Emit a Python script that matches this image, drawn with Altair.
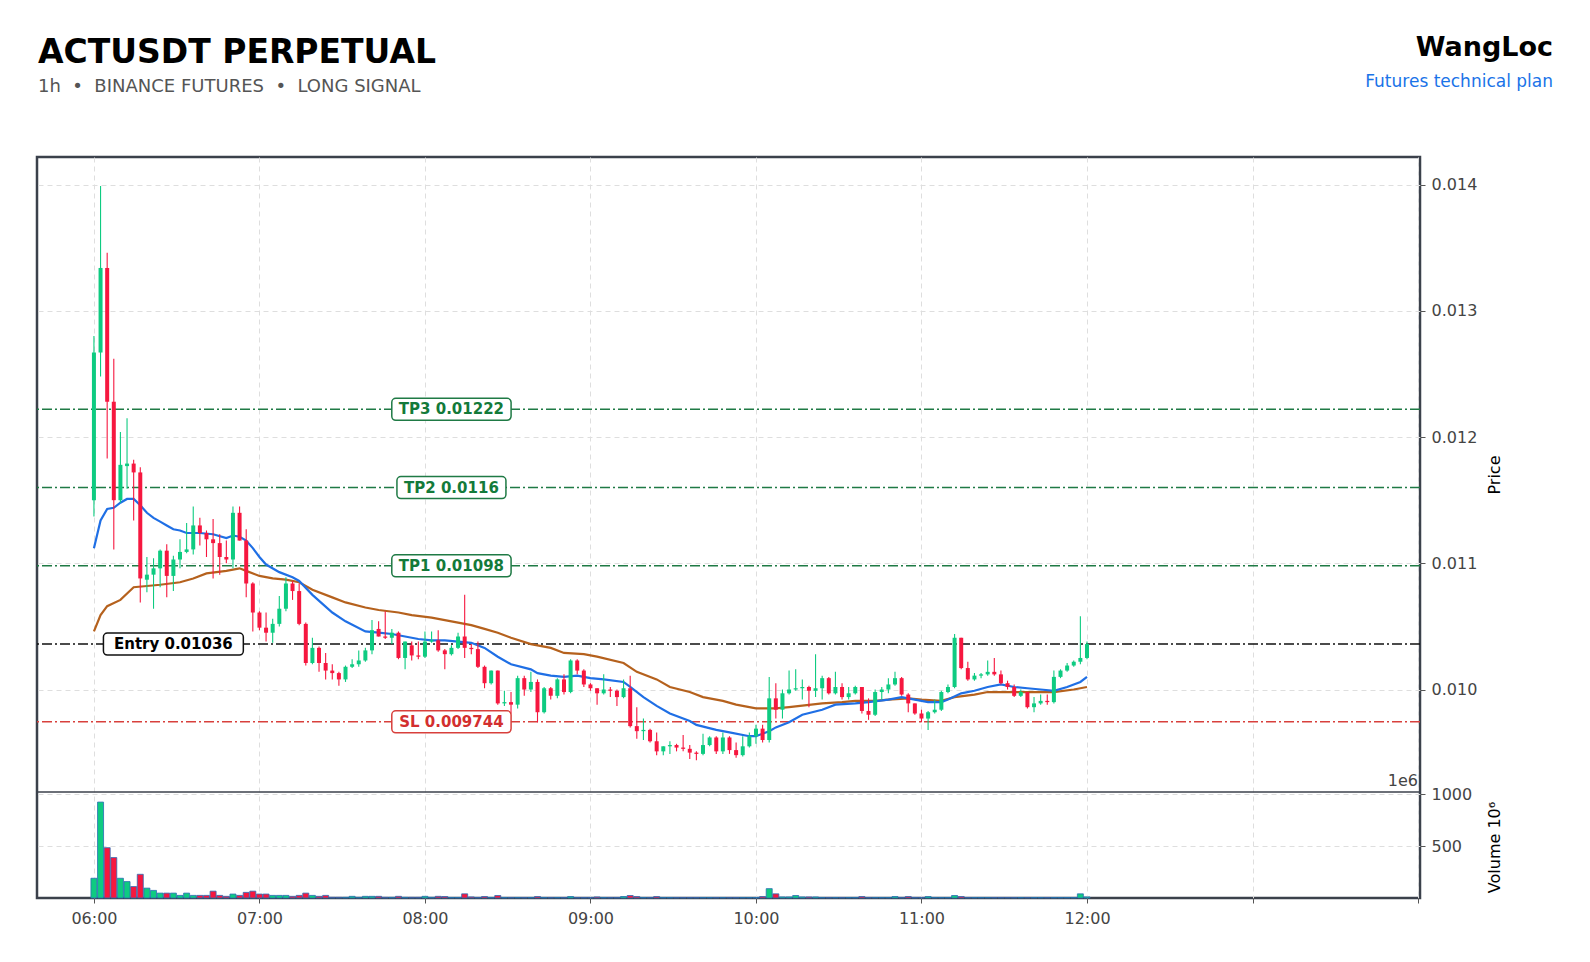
import altair as alt
import pandas as pd

# ---------------- data ----------------
HOUR_LABELS = ["06:00", "07:00", "08:00", "09:00", "10:00", "11:00", "12:00"]
CANDLES_PER_HOUR = 25

OPEN = [
    0.01150, 0.01267, 0.01334, 0.01228, 0.01150, 0.01177, 0.01179, 0.01172, 0.01087, 0.01091,
    0.01096, 0.01110, 0.01090, 0.01103, 0.01109, 0.01111, 0.01130, 0.01124, 0.01119, 0.01116,
    0.01105, 0.01103, 0.01140, 0.01118, 0.01084, 0.01061, 0.01049, 0.01045, 0.01052, 0.01064,
    0.01084, 0.01078, 0.01052, 0.01021, 0.01033, 0.01021, 0.01015, 0.01013, 0.01008, 0.01018,
    0.01020, 0.01023, 0.01031, 0.01048, 0.01042, 0.01041, 0.01045, 0.01025, 0.01035, 0.01027,
    0.01026, 0.01038, 0.01039, 0.01031, 0.01028, 0.01033, 0.01042, 0.01033, 0.01032, 0.01018,
    0.01005, 0.01015, 0.00989, 0.00990, 0.00988, 0.01009, 0.01000, 0.01006, 0.00982, 0.01001,
    0.00995, 0.01008, 0.00998, 0.01023, 0.01015, 0.01004, 0.01001, 0.00997, 0.01000, 0.00999,
    0.00994, 0.01001, 0.00971, 0.00967, 0.00968, 0.00959, 0.00951, 0.00955, 0.00956, 0.00954,
    0.00953, 0.00950, 0.00949, 0.00956, 0.00962, 0.00951, 0.00962, 0.00952, 0.00948, 0.00955,
    0.00963, 0.00969, 0.00960, 0.00993, 0.00984, 0.00997, 0.01000, 0.01001, 0.01002, 0.00999,
    0.01001, 0.01009, 0.00997, 0.01002, 0.00994, 0.00997, 0.01002, 0.00983, 0.00980, 0.00998,
    0.01000, 0.01004, 0.01009, 0.00996, 0.00989, 0.00981, 0.00977, 0.00982, 0.00984, 0.00998,
    0.01002, 0.01041, 0.01017, 0.01008, 0.01011, 0.01012, 0.01014, 0.01012, 0.01005, 0.01002,
    0.00995, 0.00998, 0.00986, 0.00989, 0.00991, 0.00990, 0.01010, 0.01015, 0.01019, 0.01022,
    0.01025,
]
HIGH = [
    0.01280, 0.01399, 0.01346, 0.01262, 0.01204, 0.01215, 0.01182, 0.01176, 0.01105, 0.01104,
    0.01111, 0.01115, 0.01106, 0.01119, 0.01132, 0.01145, 0.01136, 0.01126, 0.01135, 0.01123,
    0.01118, 0.01145, 0.01145, 0.01127, 0.01085, 0.01062, 0.01061, 0.01056, 0.01074, 0.01089,
    0.01086, 0.01084, 0.01053, 0.01041, 0.01034, 0.01029, 0.01020, 0.01014, 0.01019, 0.01024,
    0.01031, 0.01033, 0.01055, 0.01054, 0.01062, 0.01048, 0.01046, 0.01038, 0.01038, 0.01038,
    0.01046, 0.01046, 0.01047, 0.01032, 0.01035, 0.01045, 0.01075, 0.01036, 0.01038, 0.01019,
    0.01015, 0.01015, 0.00999, 0.00998, 0.01011, 0.01011, 0.01014, 0.01008, 0.01002, 0.01002,
    0.01009, 0.01012, 0.01024, 0.01024, 0.01016, 0.01005, 0.01001, 0.01012, 0.01002, 0.01000,
    0.01008, 0.01011, 0.00986, 0.00977, 0.00969, 0.00966, 0.00955, 0.00959, 0.00957, 0.00964,
    0.00956, 0.00951, 0.00965, 0.00963, 0.00963, 0.00966, 0.00963, 0.00958, 0.00963, 0.00966,
    0.00972, 0.00972, 0.01010, 0.01005, 0.01000, 0.01015, 0.01016, 0.01008, 0.01003, 0.01028,
    0.01011, 0.01010, 0.01014, 0.01005, 0.01002, 0.01003, 0.01002, 0.00993, 0.01000, 0.01002,
    0.01009, 0.01014, 0.01010, 0.00997, 0.00989, 0.00984, 0.00983, 0.00992, 0.00999, 0.01004,
    0.01044, 0.01041, 0.01022, 0.01013, 0.01013, 0.01023, 0.01025, 0.01015, 0.01007, 0.01004,
    0.01000, 0.00998, 0.00994, 0.00996, 0.00996, 0.01015, 0.01016, 0.01021, 0.01023, 0.01058,
    0.01038,
]
LOW = [
    0.01137, 0.01248, 0.01183, 0.01111, 0.01148, 0.01159, 0.01134, 0.01069, 0.01077, 0.01064,
    0.01081, 0.01073, 0.01078, 0.01096, 0.01108, 0.01107, 0.01114, 0.01105, 0.01088, 0.01091,
    0.01100, 0.01096, 0.01118, 0.01073, 0.01046, 0.01047, 0.01038, 0.01037, 0.01050, 0.01062,
    0.01071, 0.01051, 0.01019, 0.01020, 0.01014, 0.01008, 0.01008, 0.01003, 0.01006, 0.01017,
    0.01018, 0.01022, 0.01028, 0.01042, 0.01040, 0.01036, 0.01024, 0.01016, 0.01023, 0.01024,
    0.01025, 0.01037, 0.01030, 0.01016, 0.01027, 0.01032, 0.01025, 0.01028, 0.01017, 0.01001,
    0.01004, 0.00988, 0.00987, 0.00981, 0.00985, 0.00995, 0.00998, 0.00974, 0.00981, 0.00992,
    0.00993, 0.00996, 0.00997, 0.01012, 0.01002, 0.00999, 0.00988, 0.00996, 0.00994, 0.00987,
    0.00993, 0.00970, 0.00961, 0.00960, 0.00958, 0.00948, 0.00948, 0.00949, 0.00951, 0.00951,
    0.00945, 0.00944, 0.00948, 0.00955, 0.00949, 0.00949, 0.00949, 0.00946, 0.00947, 0.00954,
    0.00957, 0.00958, 0.00958, 0.00977, 0.00977, 0.00996, 0.00999, 0.00992, 0.00986, 0.00994,
    0.00992, 0.00996, 0.00996, 0.00992, 0.00992, 0.00996, 0.00981, 0.00976, 0.00979, 0.00992,
    0.00997, 0.01003, 0.00995, 0.00982, 0.00980, 0.00974, 0.00968, 0.00981, 0.00983, 0.00997,
    0.01001, 0.01016, 0.01007, 0.01007, 0.01009, 0.01011, 0.01011, 0.01004, 0.01000, 0.00994,
    0.00994, 0.00985, 0.00982, 0.00988, 0.00988, 0.00989, 0.01009, 0.01014, 0.01018, 0.01020,
    0.01024,
]
CLOSE = [
    0.01267, 0.01334, 0.01228, 0.01150, 0.01178, 0.01179, 0.01172, 0.01088, 0.01091, 0.01096,
    0.01110, 0.01090, 0.01103, 0.01109, 0.01111, 0.01130, 0.01124, 0.01119, 0.01116, 0.01105,
    0.01103, 0.01140, 0.01118, 0.01084, 0.01061, 0.01049, 0.01045, 0.01052, 0.01064, 0.01084,
    0.01078, 0.01052, 0.01021, 0.01033, 0.01021, 0.01015, 0.01013, 0.01008, 0.01018, 0.01020,
    0.01023, 0.01031, 0.01047, 0.01042, 0.01041, 0.01045, 0.01025, 0.01038, 0.01027, 0.01026,
    0.01038, 0.01039, 0.01031, 0.01028, 0.01033, 0.01042, 0.01033, 0.01032, 0.01018, 0.01005,
    0.01015, 0.00989, 0.00990, 0.00988, 0.01009, 0.01000, 0.01006, 0.00982, 0.01001, 0.00995,
    0.01008, 0.00998, 0.01023, 0.01015, 0.01004, 0.01001, 0.00997, 0.01000, 0.00999, 0.00994,
    0.01001, 0.00971, 0.00967, 0.00968, 0.00959, 0.00951, 0.00955, 0.00956, 0.00954, 0.00953,
    0.00950, 0.00949, 0.00956, 0.00962, 0.00951, 0.00962, 0.00952, 0.00948, 0.00955, 0.00963,
    0.00969, 0.00960, 0.00993, 0.00984, 0.00997, 0.01000, 0.01001, 0.01002, 0.00999, 0.01001,
    0.01009, 0.00997, 0.01002, 0.00994, 0.00997, 0.01002, 0.00983, 0.00980, 0.00998, 0.01000,
    0.01004, 0.01009, 0.00996, 0.00989, 0.00981, 0.00977, 0.00982, 0.00984, 0.00998, 0.01002,
    0.01041, 0.01017, 0.01008, 0.01011, 0.01012, 0.01014, 0.01012, 0.01005, 0.01002, 0.00995,
    0.00998, 0.00986, 0.00989, 0.00991, 0.00990, 0.01010, 0.01015, 0.01019, 0.01022, 0.01025,
    0.01036,
]
# volume in millions
VOLUME = [
    190, 923, 484, 389, 190, 158, 110, 228, 95, 73,
    47, 47, 47, 25, 47, 25, 25, 25, 66, 25,
    16, 38, 25, 54, 66, 38, 38, 25, 25, 25,
    16, 25, 47, 25, 16, 25, 6, 6, 6, 16,
    6, 16, 16, 16, 6, 6, 16, 6, 6, 6,
    16, 6, 16, 14, 5, 5, 40, 10, 5, 14,
    5, 24, 5, 5, 5, 5, 5, 14, 5, 5,
    5, 5, 14, 5, 5, 5, 10, 5, 5, 5,
    14, 24, 14, 5, 5, 14, 5, 5, 5, 5,
    5, 5, 5, 5, 5, 5, 5, 5, 5, 5,
    5, 14, 90, 40, 10, 10, 24, 10, 10, 10,
    5, 5, 5, 5, 5, 5, 14, 5, 5, 5,
    5, 14, 5, 14, 5, 5, 14, 5, 5, 5,
    24, 14, 5, 5, 5, 5, 5, 5, 5, 5,
    5, 5, 5, 5, 5, 5, 5, 5, 5, 40,
    10,
]
# fast EMA (blue) read at candle indices
EMA_FAST = [
    (0, 0.01112), (1, 0.01134), (2, 0.01143), (3, 0.01144), (4, 0.01148), (5, 0.01151),
    (6, 0.01151), (7, 0.01146), (8, 0.01140), (9, 0.01136), (10, 0.01133), (11, 0.01130),
    (12, 0.01127), (13, 0.01126), (14, 0.01124), (16, 0.01124), (18, 0.01123), (20, 0.01120),
    (21, 0.01122), (22, 0.01121), (23, 0.01118), (24, 0.01112), (25, 0.01105), (26, 0.01099),
    (28, 0.01093), (30, 0.01089), (31, 0.01086), (33, 0.01075), (36, 0.01061), (38, 0.01054),
    (41, 0.01046), (43, 0.01045), (45, 0.01044), (47, 0.01042), (49, 0.01040), (51, 0.01039),
    (53, 0.01039), (55, 0.01038), (57, 0.01037), (59, 0.01033), (61, 0.01026), (63, 0.01020),
    (66, 0.01016), (67, 0.01013), (69, 0.01011), (71, 0.01010), (73, 0.01011), (75, 0.01009),
    (77, 0.01008), (80, 0.01006), (81, 0.01002), (83, 0.00994), (85, 0.00987), (87, 0.00981),
    (90, 0.00975), (91, 0.00972), (94, 0.00968), (96, 0.00966), (99, 0.00963), (100, 0.00963),
    (102, 0.00967), (103, 0.00970), (105, 0.00974), (107, 0.00980), (110, 0.00984),
    (112, 0.00988), (115, 0.00989), (117, 0.00990), (120, 0.00992), (122, 0.00994),
    (124, 0.00992), (126, 0.00990), (128, 0.00990), (129, 0.00992), (131, 0.00997),
    (133, 0.00999), (135, 0.01002), (137, 0.01004), (139, 0.01002), (141, 0.01001),
    (143, 0.01000), (145, 0.00999), (147, 0.01002), (149, 0.01006), (150, 0.01010),
]
# slow EMA (brown)
EMA_SLOW = [
    (0, 0.01046), (1, 0.01059), (2, 0.01066), (4, 0.01071), (6, 0.01081), (8, 0.01082),
    (10, 0.01083), (13, 0.01085), (15, 0.01088), (17, 0.01092), (20, 0.01094), (22, 0.01096),
    (23, 0.01094), (25, 0.01090), (27, 0.01088), (29, 0.01087), (31, 0.01085), (33, 0.01079),
    (36, 0.01073), (38, 0.01069), (41, 0.01065), (43, 0.01063), (46, 0.01061), (48, 0.01059),
    (51, 0.01057), (53, 0.01055), (56, 0.01052), (57, 0.01051), (59, 0.01048), (61, 0.01045),
    (63, 0.01041), (66, 0.01036), (69, 0.01033), (71, 0.01029), (74, 0.01028), (76, 0.01026),
    (80, 0.01021), (82, 0.01014), (85, 0.01008), (87, 0.01002), (90, 0.00998), (92, 0.00994),
    (95, 0.00991), (97, 0.00988), (100, 0.00985), (101, 0.00985), (103, 0.00985),
    (105, 0.00986), (110, 0.00989), (113, 0.00990), (115, 0.00991), (118, 0.00991),
    (120, 0.00992), (123, 0.00993), (125, 0.00992), (128, 0.00991), (130, 0.00994),
    (133, 0.00996), (135, 0.00998), (138, 0.00998), (140, 0.00998), (143, 0.00998),
    (145, 0.00998), (148, 0.01000), (150, 0.01002),
]
LEVEL_NAMES = ["TP3", "TP2", "TP1", "Entry", "SL"]
LEVEL_PRICES = [0.01222, 0.0116, 0.01098, 0.01036, 0.009744]
LEVEL_LABELS = ["TP3 0.01222", "TP2 0.0116", "TP1 0.01098", "Entry 0.01036", "SL 0.009744"]
LEVEL_LABEL_AT = [54, 54, 54, 12, 54]  # candle index where the tag sits

PRICE_TICKS = [0.010, 0.011, 0.012, 0.013, 0.014]
VOLUME_TICKS = [500, 1000]

TITLE = "ACTUSDT PERPETUAL"
SUBTITLE = "\u00a01h\u00a0\u00a0•\u00a0\u00a0BINANCE FUTURES\u00a0\u00a0•\u00a0\u00a0LONG SIGNAL".lstrip("\u00a0")
BRAND = "WangLoc"
BRAND_SUB = "Futures technical plan"

# ---------------- styling / layout ----------------
GREEN = "#0ecb81"
RED = "#f6173f"
LEVEL_LINE_COLORS = {"TP3": "#1f7a45", "TP2": "#1f7a45", "TP1": "#1f7a45", "Entry": "#111111", "SL": "#d8403c"}
LEVEL_TEXT_COLORS = {"TP3": "#137a3a", "TP2": "#137a3a", "TP1": "#137a3a", "Entry": "#000000", "SL": "#d32f2f"}
FRAME = "#3b414b"
GRID = "#dedede"

W, H = 1383, 741          # full plot area (price + volume panels)
PRICE_H = 635             # price panel height in px
VOL_H = H - PRICE_H
X_DOMAIN = [-8.6, 200.3]
P_TOP, P_PANEL_BOTTOM = 0.014219, 0.009188
p_per_px = (P_TOP - P_PANEL_BOTTOM) / PRICE_H
P_DOMAIN = [P_PANEL_BOTTOM - VOL_H * p_per_px, P_TOP]
VOL_PANEL_MAX = 1020
V_DOMAIN = [0, VOL_PANEL_MAX * H / VOL_H]
px_per_idx = W / (X_DOMAIN[1] - X_DOMAIN[0])

n = len(CLOSE)
candles = pd.DataFrame({
    "idx": list(range(n)), "open": OPEN, "high": HIGH, "low": LOW, "close": CLOSE,
    "volume": VOLUME[:n],
})
candles["color"] = [GREEN if c >= o else RED for o, c in zip(OPEN, CLOSE)]

fast = pd.DataFrame(EMA_FAST, columns=["idx", "ema"])
slow = pd.DataFrame(EMA_SLOW, columns=["idx", "ema"])

levels = pd.DataFrame({"name": LEVEL_NAMES, "price": LEVEL_PRICES, "label": LEVEL_LABELS, "at": LEVEL_LABEL_AT})
levels["lcolor"] = levels["name"].map(LEVEL_LINE_COLORS)
levels["tcolor"] = levels["name"].map(LEVEL_TEXT_COLORS)
half_w = (levels["label"].str.len() * 10.3 + 6) / 2 / px_per_idx
half_h = 11 * p_per_px
levels["x1"] = levels["at"] - half_w
levels["x2"] = levels["at"] + half_w
levels["y1"] = levels["price"] - half_h
levels["y2"] = levels["price"] + half_h

hour_js = "[" + ",".join("'%s'" % h for h in HOUR_LABELS) + "]"
x_axis = alt.Axis(
    values=[k * CANDLES_PER_HOUR for k in range(9)],
    labelExpr=hour_js + "[round(datum.value / %d)] || ''" % CANDLES_PER_HOUR,
    grid=True, gridColor=GRID, gridDash=[5, 4], gridWidth=1,
    domain=False, ticks=True, tickColor="#555555", tickSize=5,
    labelFontSize=16, labelColor="#444444", labelPadding=7, title=None,
)
price_axis = alt.Axis(
    orient="right", values=PRICE_TICKS, format=".3f",
    grid=True, gridColor=GRID, gridDash=[5, 4], gridWidth=1,
    domain=False, tickColor="#555555", tickSize=5,
    labelFontSize=16, labelColor="#444444", labelPadding=6,
    title="Price", titleAngle=270, titleX=74, titleY=PRICE_H / 2,
    titleAlign="center", titleBaseline="middle",
    titleFontSize=16, titleFontWeight="normal", titleColor="#000000",
)
vol_axis = alt.Axis(
    orient="right", values=VOLUME_TICKS, format="d",
    grid=True, gridColor=GRID, gridDash=[5, 4], gridWidth=1,
    domain=False, tickColor="#555555", tickSize=5,
    labelFontSize=16, labelColor="#444444", labelPadding=6,
    title="Volume 10⁶", titleAngle=270, titleX=74, titleY=PRICE_H + VOL_H / 2 + 2,
    titleAlign="center", titleBaseline="middle",
    titleFontSize=16, titleFontWeight="normal", titleColor="#000000",
)
XS = alt.Scale(domain=X_DOMAIN, nice=False, zero=False, padding=0)
YS = alt.Scale(domain=P_DOMAIN, nice=False, zero=False, padding=0)
VS = alt.Scale(domain=V_DOMAIN, nice=False, zero=True, padding=0)


def X(field):
    return alt.X(field, type="quantitative", scale=XS, axis=x_axis)


def Y(field):
    return alt.Y(field, type="quantitative", scale=YS, axis=price_axis)


DASHDOT = [10, 3, 2, 3]

level_rules = alt.Chart(levels).mark_rule(strokeWidth=1.5, strokeDash=DASHDOT).encode(
    y=Y("price"), color=alt.Color("lcolor:N", scale=None)
)
fast_line = alt.Chart(fast).mark_line(color="#1f6fe5", strokeWidth=2.2).encode(x=X("idx"), y=Y("ema"))
slow_line = alt.Chart(slow).mark_line(color="#b5611d", strokeWidth=2.2).encode(x=X("idx"), y=Y("ema"))
wicks = alt.Chart(candles).mark_rule(strokeWidth=1.1).encode(
    x=X("idx"), y=Y("low"), y2=alt.Y2("high"), color=alt.Color("color:N", scale=None)
)
bodies = alt.Chart(candles).mark_bar(size=4).encode(
    x=X("idx"), y=Y("open"), y2=alt.Y2("close"), color=alt.Color("color:N", scale=None)
)
tag_boxes = alt.Chart(levels).mark_rect(fill="white", strokeWidth=1.5, cornerRadius=4).encode(
    x=X("x1"), x2=alt.X2("x2"), y=Y("y1"), y2=alt.Y2("y2"),
    stroke=alt.Stroke("lcolor:N", scale=None),
)
tag_text = alt.Chart(levels).mark_text(fontSize=15, fontWeight="bold", align="center", baseline="middle").encode(
    x=X("at"), y=Y("price"), text="label:N", color=alt.Color("tcolor:N", scale=None)
)

one = pd.DataFrame({"a": [0]})
divider = alt.Chart(one).mark_rule(color=FRAME, strokeWidth=1.6).encode(
    x=alt.value(0), x2=alt.value(W), y=alt.value(PRICE_H)
)
offset_txt = alt.Chart(one).mark_text(text="1e6", fontSize=16, color="#444444", align="right", baseline="bottom").encode(
    x=alt.value(W - 2), y=alt.value(PRICE_H - 3)
)
title_txt = alt.Chart(one).mark_text(text=TITLE, fontSize=33, fontWeight="bold", color="#000000",
                                     align="left", baseline="alphabetic").encode(x=alt.value(1), y=alt.value(-94))
sub_txt = alt.Chart(one).mark_text(text=SUBTITLE, fontSize=18, color="#555555",
                                   align="left", baseline="alphabetic").encode(x=alt.value(1), y=alt.value(-65))
brand_txt = alt.Chart(one).mark_text(text=BRAND, fontSize=27, fontWeight="bold", color="#000000",
                                     align="right", baseline="alphabetic").encode(x=alt.value(1516), y=alt.value(-101))
tag_line_txt = alt.Chart(one).mark_text(text=BRAND_SUB, fontSize=17, color="#1a73e8",
                                        align="right", baseline="alphabetic").encode(x=alt.value(1516), y=alt.value(-70))

price_layer = alt.layer(
    level_rules, slow_line, fast_line, wicks, bodies, tag_boxes, tag_text,
    divider, offset_txt, title_txt, sub_txt, brand_txt, tag_line_txt,
)

volume_layer = alt.Chart(candles).mark_bar(size=6, stroke="#2a6db5", strokeWidth=0.8).encode(
    x=X("idx"),
    y=alt.Y("volume:Q", scale=VS, axis=vol_axis),
    color=alt.Color("color:N", scale=None),
)

chart = (
    alt.layer(price_layer, volume_layer)
    .resolve_scale(y="independent")
    .properties(
        width=W, height=H,
        autosize=alt.AutoSizeParams(type="none"),
        padding={"left": 29, "top": 149, "right": 160, "bottom": 50},
        background="white",
    )
    .configure(font="DejaVu Sans")
    .configure_view(stroke=FRAME, strokeWidth=2.5)
)

chart.save("out.html", embed_options={"renderer": "svg", "actions": False})
